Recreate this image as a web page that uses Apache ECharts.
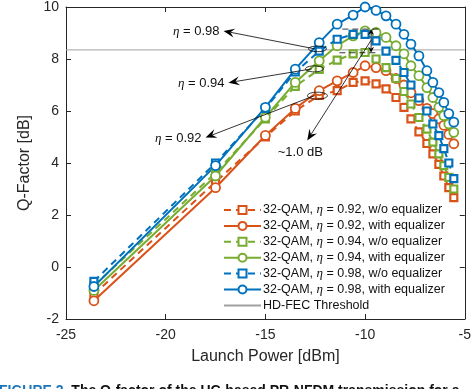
<!DOCTYPE html>
<html>
<head>
<meta charset="utf-8">
<script src="https://cdn.jsdelivr.net/npm/echarts@6/dist/echarts.min.js"></script>
<style>
html,body{margin:0;padding:0;background:#fff;}
#c{width:474px;height:389px;}
</style>
</head>
<body>
<div id="c"></div>
<script>
// ---- data ----
const launchPower = [-23.6, -17.5, -15, -13.5, -12.3, -11.4, -10.6, -10, -9.45, -8.95, -8.45, -8.05, -7.7, -7.3, -6.9, -6.6, -6.3, -6.05, -5.8, -5.55];
const q092Wo = [-1.05, 3.27, 5.0, 6.0, 6.6, 6.78, 7.1, 7.16, 7.04, 6.85, 6.52, 6.14, 5.7, 5.2, 4.75, 4.35, 3.95, 3.5, 3.05, 2.67];
const q092Eq = [-1.3, 3.05, 5.06, 6.1, 6.78, 7.16, 7.48, 7.74, 7.67, 7.55, 7.25, 7.0, 6.7, 6.4, 6.1, 5.9, 5.7, 5.45, 5.1, 4.74];
const q094Wo = [-0.72, 3.62, 5.7, 6.95, 7.6, 7.96, 8.2, 8.25, 8.0, 7.67, 7.25, 6.75, 6.27, 5.75, 5.3, 4.8, 4.35, 3.9, 3.45, 3.0];
const q094Eq = [-0.9, 3.5, 5.76, 7.1, 7.93, 8.51, 8.89, 9.08, 9.02, 8.83, 8.51, 8.2, 7.74, 7.36, 6.9, 6.52, 6.14, 5.82, 5.5, 5.18];
const q098Wo = [-0.55, 4.0, 6.1, 7.5, 8.3, 8.76, 8.95, 8.95, 8.7, 8.3, 7.95, 7.48, 7.0, 6.5, 6.0, 5.5, 5.05, 4.55, 4.0, 3.4];
const q098Eq = [-0.75, 3.9, 6.14, 7.61, 8.63, 9.34, 9.69, 10.0, 9.87, 9.66, 9.34, 8.95, 8.57, 8.12, 7.55, 7.1, 6.71, 6.33, 5.9, 5.57];
const hdFec = 8.35;
const seriesNames = [
  '32-QAM, η = 0.92, w/o equalizer',
  '32-QAM, η = 0.92, with equalizer',
  '32-QAM, η = 0.94, w/o equalizer',
  '32-QAM, η = 0.94, with equalizer',
  '32-QAM, η = 0.98, w/o equalizer',
  '32-QAM, η = 0.98, with equalizer',
  'HD-FEC Threshold'
];
const xTicks = [-25, -20, -15, -10, -5];
const yTicks = [-2, 0, 2, 4, 6, 8, 10];

const C_OR = '#D95319', C_GR = '#77AC30', C_BL = '#0072BD';
const FONT = '"Liberation Sans", Arial, Helvetica, sans-serif';

function pairs(arr){ return launchPower.map((x,i)=>[x, arr[i]]); }
function woSeries(name, arr, c){
  return {name, type:'line', data:pairs(arr), symbol:'rect', symbolSize:7,
    lineStyle:{color:c, width:2, type:[7,5]},
    itemStyle:{color:'#fff', borderColor:c, borderWidth:2.2}, z:3};
}
function eqSeries(name, arr, c){
  return {name, type:'line', data:pairs(arr), symbol:'circle', symbolSize:9,
    lineStyle:{color:c, width:2},
    itemStyle:{color:'#fff', borderColor:c, borderWidth:1.8}, z:3};
}

const chart = echarts.init(document.getElementById('c'), null, {renderer:'canvas'});
const axisCommon = {
  min: xTicks[0], max: xTicks[xTicks.length-1], interval: 5,
  axisLine:{show:true, onZero:false, lineStyle:{color:'#262626', width:1}},
  axisTick:{show:true, inside:true, length:5, lineStyle:{color:'#262626'}},
  splitLine:{show:false}
};
const legendData = seriesNames.map((n,i)=> i===6
  ? {name:n, itemStyle:{opacity:0}}
  : {name:n});
const option = {
  animation:false,
  backgroundColor:'#fff',
  grid:{left:66, right:7, top:6, bottom:70, containLabel:false},
  xAxis:[
    Object.assign({type:'value', position:'bottom',
      name:'Launch Power [dBm]', nameLocation:'middle', nameGap:30,
      nameTextStyle:{fontSize:16, fontFamily:FONT, color:'#262626'},
      axisLabel:{fontSize:14, fontFamily:FONT, color:'#262626', margin:9}}, axisCommon),
    Object.assign({type:'value', position:'top', axisLabel:{show:false}}, axisCommon)
  ],
  yAxis:[
    {type:'value', min:yTicks[0], max:yTicks[yTicks.length-1], interval:2, position:'left',
      name:'Q-Factor [dB]', nameLocation:'middle', nameGap:25,
      nameTextStyle:{fontSize:16, fontFamily:FONT, color:'#262626'},
      axisLine:{show:true, onZero:false, lineStyle:{color:'#262626'}},
      axisTick:{show:true, inside:true, length:5, lineStyle:{color:'#262626'}},
      axisLabel:{fontSize:14, fontFamily:FONT, color:'#262626', margin:7},
      splitLine:{show:false}},
    {type:'value', min:yTicks[0], max:yTicks[yTicks.length-1], interval:2, position:'right',
      axisLine:{show:true, onZero:false, lineStyle:{color:'#262626'}},
      axisTick:{show:true, inside:true, length:5, lineStyle:{color:'#262626'}},
      axisLabel:{show:false}, splitLine:{show:false}}
  ],
  legend:{
    orient:'vertical', left:218, top:198, itemWidth:37, itemHeight:10, itemGap:1.9,
    data:legendData,
    formatter:(n)=>n.replace('η','{e|η}'),
    textStyle:{fontSize:12.5, fontFamily:FONT, color:'#111', lineHeight:14, padding:[0,0,0,-3],
      rich:{e:{fontSize:13, fontStyle:'italic', fontFamily:'"Liberation Serif", serif', color:'#111', lineHeight:14}}}
  },
  series:[
    woSeries(seriesNames[0], q092Wo, C_OR),
    eqSeries(seriesNames[1], q092Eq, C_OR),
    woSeries(seriesNames[2], q094Wo, C_GR),
    eqSeries(seriesNames[3], q094Eq, C_GR),
    woSeries(seriesNames[4], q098Wo, C_BL),
    eqSeries(seriesNames[5], q098Eq, C_BL),
    {name:seriesNames[6], type:'line', symbol:'none', data:[[xTicks[0], hdFec],[xTicks[xTicks.length-1], hdFec]],
      lineStyle:{color:'#a0a0a0', width:1}, itemStyle:{color:'#a0a0a0'}, z:2}
  ]
};
chart.setOption(option);

// ---- annotations (data coordinates) ----
const labels = [
  {text:'η = 0.98', ell:[-12.39, 8.39], rx:9, ry:2.8, tip:[-17.1, 9.08]},
  {text:'η = 0.94', ell:[-12.54, 7.62], rx:9, ry:3, tip:[-16.85, 7.09]},
  {text:'η = 0.92', ell:[-12.39, 6.59], rx:10, ry:3.5, tip:[-18.0, 4.98]}
];
const dbArrow = {from:[-9.7, 8.72], tip:[-12.9, 4.87], text:'~1.0 dB', textPos:[-13.25, 4.4]};
const peakLines = [[-11.14, -9.29, 9.15], [-11.29, -9.29, 8.24]];

function P(p){ return chart.convertToPixel({gridIndex:0}, p); }
function arrowHead(x1,y1,x2,y2,L,W,N){
  const dx=x2-x1, dy=y2-y1, d=Math.hypot(dx,dy), ux=dx/d, uy=dy/d, nx=-uy, ny=ux;
  return {
    poly:[[x2,y2],[x2-L*ux+W*nx, y2-L*uy+W*ny],[x2-N*ux, y2-N*uy],[x2-L*ux-W*nx, y2-L*uy-W*ny]],
    base:[x2-N*ux, y2-N*uy]
  };
}
const g = [];
function addArrow(a,b,L,W,N,lw){
  const h = arrowHead(a[0],a[1],b[0],b[1],L,W,N);
  g.push({type:'line', shape:{x1:a[0],y1:a[1],x2:h.base[0],y2:h.base[1]}, style:{stroke:'#000', lineWidth:lw||0.8}, z:10});
  g.push({type:'polygon', shape:{points:h.poly}, style:{fill:'#000'}, z:10});
}
labels.forEach(l=>{
  const e=P(l.ell), t=P(l.tip);
  g.push({type:'ellipse', shape:{cx:e[0], cy:e[1], rx:l.rx, ry:l.ry}, style:{fill:null, stroke:'#000', lineWidth:0.8}, z:10});
  addArrow([e[0]-l.rx*0.3, e[1]], t, 11, 4.5, 7);
  g.push({type:'text', x:t[0]-4, y:t[1]+1, style:{text:l.text.replace('η','{e|η}'), fill:'#111', font:'13px '+FONT, align:'right', verticalAlign:'middle',
    rich:{e:{fontSize:13, fontStyle:'italic', fontFamily:'"Liberation Serif", serif', fill:'#111'}}}, z:10});
});
peakLines.forEach(pl=>{
  const a=P([pl[0], pl[2]]), b=P([pl[1], pl[2]]);
  g.push({type:'line', shape:{x1:a[0],y1:a[1],x2:b[0],y2:b[1]}, style:{stroke:'#000', lineWidth:0.8, lineDash:[6,4]}, z:10});
});
{
  const f=P(dbArrow.from), t=P(dbArrow.tip);
  addArrow(f, t, 11, 4.5, 7);
  const up=P([dbArrow.from[0], peakLines[0][2]]), dn=P([dbArrow.from[0], peakLines[1][2]]);
  addArrow(f, up, 6, 3, 4, 0.8);
  addArrow(f, dn, 6, 3, 4, 0.8);
  const tp=P(dbArrow.textPos);
  g.push({type:'text', x:tp[0], y:tp[1], style:{text:dbArrow.text, fill:'#111', font:'13px '+FONT, align:'center', verticalAlign:'middle'}, z:10});
}
// caption fragment at the bottom (cropped)
g.push({type:'text', left:-1, top:384, style:{text:'{b|FIGURE 2.} The Q-factor of the UC-based PR-NFDM transmission for a', fill:'#111', font:'bold 14px '+FONT,
  rich:{b:{fill:'#1a75bb', fontWeight:'bold', fontSize:14, fontFamily:FONT}}}, z:10});
chart.setOption({graphic:g});
</script>
</body>
</html>
